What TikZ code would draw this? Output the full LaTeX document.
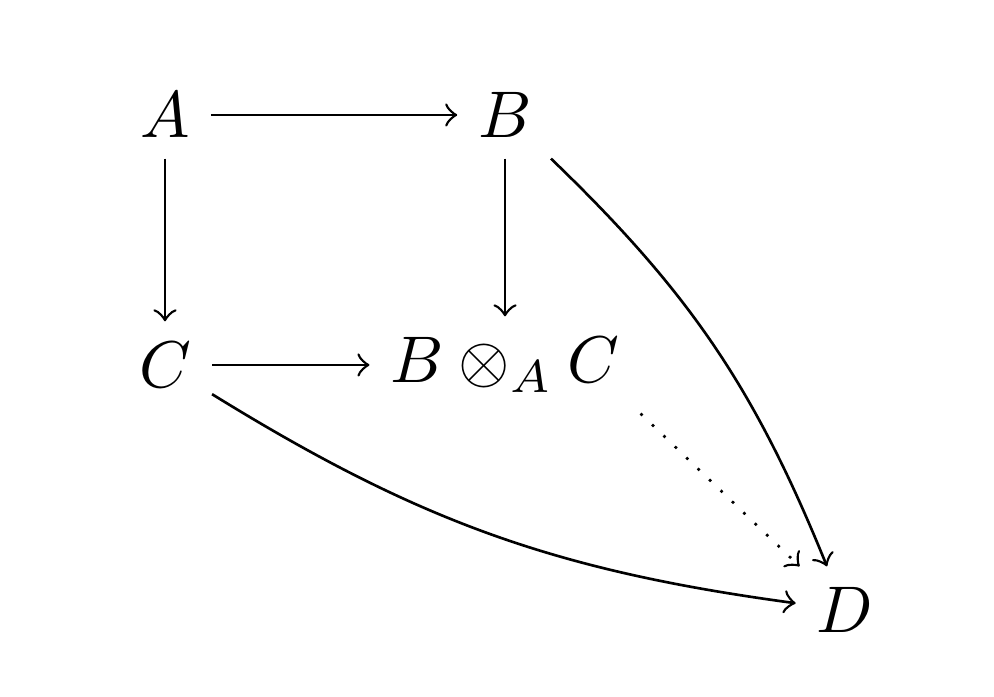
\documentclass[tikz,border=0pt]{standalone}
\usepackage{amsmath}
\begin{document}
\begin{tikzpicture}[x=0.1515pt,y=-0.1515pt,arr/.style={->,line width=0.4pt},every node/.style={inner sep=3pt}]
\useasboundingbox (0,0) rectangle (994,697);
\node (A) at (165,115) {$A$};
\node (B) at (505,115) {$B$};
\node (C) at (165,365) {$C$};
\node (P) at (505,365) {$B\otimes_A C$};
\node (D) at (845,610) {$D$};
\draw[arr] (A) -- (B);
\draw[arr] (A) -- (C);
\draw[arr] (B) -- (P);
\draw[arr] (C) -- (P);
\draw[arr] (B) to[bend left=12] (D);
\draw[arr] (C) to[bend right=12] (D);
\draw[arr,dotted] (P.south east) -- (D);
\end{tikzpicture}
\end{document}
